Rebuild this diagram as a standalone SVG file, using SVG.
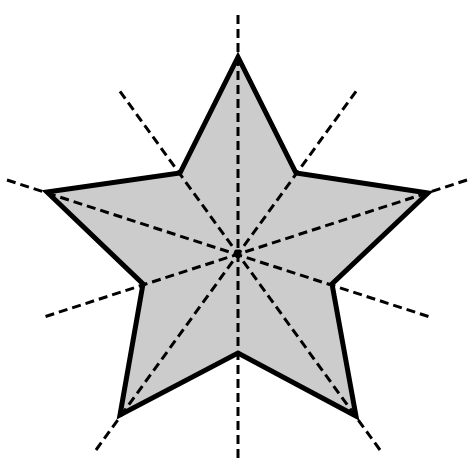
<svg xmlns="http://www.w3.org/2000/svg" width="474" height="474" viewBox="0 0 474 474">
<style>
.fill{fill:#cccccc;stroke:none}
.outline{fill:none;stroke:#000;stroke-width:5;stroke-linejoin:miter;stroke-miterlimit:10}
.dash{stroke:#000;stroke-width:3;stroke-dasharray:9 5;fill:none}
</style>
<rect width="474" height="474" fill="#fff"/>
<g id="star-fill">
<polygon class="fill" points="238,57 296,173 428,193 332,284 356,416 238,353 120,415 143,284 47,192 180,173"/>
</g>
<g id="axes">
<line class="dash" x1="238" y1="15" x2="238" y2="460"/>
<line class="dash" x1="7" y1="180" x2="430" y2="317"/>
<line class="dash" x1="467" y1="180" x2="44" y2="317"/>
<line class="dash" x1="96" y1="450" x2="357" y2="90"/>
<line class="dash" x1="380" y1="450" x2="119" y2="90"/>
</g>
<g id="star-outline">
<polygon class="outline" points="238,57 296,173 428,193 332,284 356,416 238,353 120,415 143,284 47,192 180,173"/>
</g>
<g id="center">
<circle cx="238" cy="253" r="3.5" fill="#000"/>
</g>
</svg>
